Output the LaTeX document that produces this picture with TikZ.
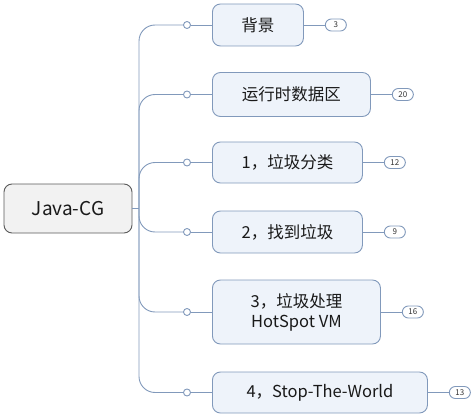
\documentclass[tikz,border=0pt]{standalone}
\usepackage{xcolor}
\usepackage{fontspec}
\setmainfont{Noto Sans CJK SC}
\usepackage{tikz}
\usetikzlibrary{positioning}

\definecolor{linegray}{HTML}{8199BB}
\definecolor{boxfill}{HTML}{EEF3FA}
\definecolor{rootfill}{HTML}{F2F2F2}
\definecolor{rootline}{HTML}{5A5A5A}

\begin{document}
\begin{tikzpicture}[x=1pt,y=-1pt,line width=0.9pt,
    main node/.style={draw=linegray,fill=boxfill,rounded corners=8pt,anchor=west,inner sep=0pt,align=center,font=\fontsize{16.5}{20}\selectfont,text=black!90},
    root node/.style={draw=rootline,fill=rootfill,rounded corners=8pt,minimum width=128pt,minimum height=49pt,inner sep=0pt,font=\fontsize{19}{22}\selectfont,text=black!90},
    dot node/.style={circle,draw=linegray,fill=white,inner sep=0pt,minimum size=7pt},
    count node/.style={draw=linegray,fill=white,rounded corners=6pt,minimum width=21pt,minimum height=12pt,inner sep=0pt,font=\fontsize{8}{9}\selectfont,text=black!80},
    link/.style={draw=linegray}]
  \useasboundingbox (0,0) rectangle (474,417);

  \node[root node] (root) at (68,208.5) {Java-CG};
  \coordinate (hub) at (139,208.5);

  \node[main node,minimum width=91pt,minimum height=42pt] (bg) at (212,25) {背景};
  \node[main node,minimum width=158pt,minimum height=44pt] (data) at (212,94.5) {运行时数据区};
  \node[main node,minimum width=150pt,minimum height=41pt] (kind) at (212,162.5) {1，垃圾分类};
  \node[main node,minimum width=150pt,minimum height=42pt] (find) at (212,232) {2，找到垃圾};
  \node[main node,minimum width=168pt,minimum height=64pt] (handle) at (212,312) {3，垃圾处理\\HotSpot VM};
  \node[main node,minimum width=215pt,minimum height=41pt] (stw) at (212,392.5) {4，Stop-The-World};

  \draw[link] (root.east) -- (hub);
  \foreach \b/\n in {bg/3,data/20,kind/12,find/9,handle/16,stw/13} {
    \node[dot node] (dot-\b) at (187,0 |- \b.west) {};
    \draw[link,rounded corners=16pt] (hub) |- (dot-\b.west);
    \draw[link] (dot-\b.east) -- (\b.west);
    \node[count node] (cnt-\b) [right=21pt of \b.east] {\n};
    \draw[link] (\b.east) -- (cnt-\b.west);
  }
\end{tikzpicture}
\end{document}
